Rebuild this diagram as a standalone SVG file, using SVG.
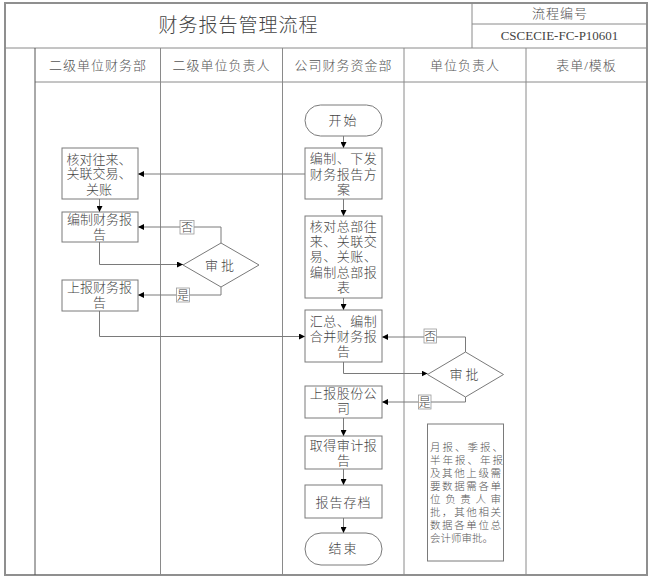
<svg xmlns="http://www.w3.org/2000/svg" width="653" height="580" viewBox="0 0 653 580">
<defs>
<marker id="arr" markerWidth="6" markerHeight="6" refX="6" refY="3" orient="auto" markerUnits="userSpaceOnUse"><path d="M0,0 L6,3 L0,6 z" fill="#000"/></marker>
<style>
.grid{stroke:#8a8a8a;stroke-width:1;fill:none}
.box{fill:#fff;stroke:#7a7a7a;stroke-width:1}
.lbl{fill:#fff;stroke:#9a9a9a;stroke-width:0.8}
.con{stroke:#7a7a7a;stroke-width:1;fill:none;marker-end:url(#arr)}
.t{font-family:"Liberation Serif","Noto Sans CJK SC",serif;font-size:13px;font-weight:300;fill:#444;text-anchor:middle}
.h{font-family:"Liberation Serif","Noto Sans CJK SC",serif;font-size:13px;font-weight:300;fill:#555;text-anchor:middle;letter-spacing:1px}
.n{font-family:"Liberation Serif","Noto Sans CJK SC",serif;font-size:10.5px;font-weight:300;fill:#555}
</style>
</defs>
<rect x="0" y="0" width="653" height="580" fill="#fff"/>
<g id="frame">
<rect x="5" y="3" width="642" height="572" fill="none" stroke="#8f8f8f" stroke-width="2"/>
<line class="grid" x1="5" y1="48" x2="647" y2="48"/>
<line class="grid" x1="472" y1="3" x2="472" y2="48"/>
<line class="grid" x1="472" y1="24" x2="647" y2="24"/>
<line class="grid" x1="35" y1="82" x2="647" y2="82"/>
<line x1="35" y1="48" x2="35" y2="575" stroke="#555" stroke-width="1"/>
<line class="grid" x1="160.5" y1="48" x2="160.5" y2="575"/>
<line class="grid" x1="282.5" y1="48" x2="282.5" y2="575"/>
<line class="grid" x1="404" y1="48" x2="404" y2="575"/>
<line class="grid" x1="526" y1="48" x2="526" y2="575"/>
<text x="238.5" y="32" class="t" style="font-size:19px;letter-spacing:1px">财务报告管理流程</text>
<text x="560" y="18" class="h">流程编号</text>
<text x="559.5" y="40" class="t" style="font-size:13px">CSCECIE-FC-P10601</text>
<text x="98" y="70" class="h">二级单位财务部</text>
<text x="221.5" y="70" class="h">二级单位负责人</text>
<text x="343.5" y="70" class="h">公司财务资金部</text>
<text x="465" y="70" class="h">单位负责人</text>
<text x="586.5" y="70" class="h">表单/模板</text>
</g>
<g id="connectors">
<path class="con" d="M343.5,136 V148"/>
<path class="con" d="M343.5,199 V216"/>
<path class="con" d="M343.5,298 V310"/>
<path class="con" d="M305,174 H138"/>
<path class="con" d="M99.5,199 V212"/>
<path class="con" d="M99.5,242 V264.5 H183"/>
<path class="con" d="M221,243 V227 H138"/>
<path class="con" d="M221,287 V295 H138"/>
<path class="con" d="M99.5,311 V336.5 H305"/>
<path class="con" d="M343.5,362 V373.5 H427.5"/>
<path class="con" d="M465.5,352 V337 H382"/>
<path class="con" d="M465.5,397 V402 H382"/>
<path class="con" d="M343.5,418 V436"/>
<path class="con" d="M343.5,469 V485"/>
<path class="con" d="M343.5,518 V533"/>
<rect class="lbl" x="180" y="220.5" width="14" height="13.5"/>
<text x="187" y="231.5" class="t" style="font-size:12px">否</text>
<rect class="lbl" x="176.5" y="288" width="13" height="14"/>
<text x="183" y="299.5" class="t" style="font-size:12px">是</text>
<rect class="lbl" x="424" y="329" width="12.5" height="14"/>
<text x="430.25" y="340.5" class="t" style="font-size:12px">否</text>
<rect class="lbl" x="418.5" y="395" width="12.5" height="14"/>
<text x="424.75" y="406.5" class="t" style="font-size:12px">是</text>
</g>
<g id="start">
<rect class="box" x="305" y="105" width="77" height="31" rx="15.5" ry="15.5"/>
<text x="343.5" y="124.5" class="t" style="letter-spacing:2px">开始</text>
</g>
<g id="draft">
<rect class="box" x="305" y="148" width="77" height="51"/>
<text x="343.5" y="162.5" class="t" style="letter-spacing:0.5px">编制、下发</text>
<text x="343.5" y="178.5" class="t" style="letter-spacing:0.5px">财务报告方</text>
<text x="343.5" y="193.5" class="t">案</text>
</g>
<g id="check-sub">
<rect class="box" x="62" y="148" width="76" height="51"/>
<text x="99" y="163.5" class="t">核对往来、</text>
<text x="99" y="177.5" class="t">关联交易、</text>
<text x="99" y="193.5" class="t">关账</text>
</g>
<g id="compile-sub">
<rect class="box" x="62" y="212" width="76" height="30"/>
<text x="99.5" y="223.5" class="t">编制财务报</text>
<text x="99.5" y="239" class="t">告</text>
</g>
<g id="approve-sub">
<polygon class="box" points="221,243 259,265 221,287 183,265"/>
<text x="221" y="269.5" class="t" style="letter-spacing:3px">审批</text>
</g>
<g id="report-sub">
<rect class="box" x="62" y="280" width="76" height="31"/>
<text x="99.5" y="292" class="t">上报财务报</text>
<text x="99.5" y="307" class="t">告</text>
</g>
<g id="check-hq">
<rect class="box" x="305" y="216" width="77" height="82"/>
<text x="343.5" y="230.5" class="t" style="letter-spacing:0.5px">核对总部往</text>
<text x="343.5" y="246" class="t" style="letter-spacing:0.5px">来、关联交</text>
<text x="343.5" y="261" class="t" style="letter-spacing:0.5px">易、关账、</text>
<text x="343.5" y="276.5" class="t" style="letter-spacing:0.5px">编制总部报</text>
<text x="343.5" y="291.5" class="t">表</text>
</g>
<g id="consolidate">
<rect class="box" x="305" y="310" width="77" height="52"/>
<text x="343.5" y="326" class="t" style="letter-spacing:0.5px">汇总、编制</text>
<text x="343.5" y="340.5" class="t" style="letter-spacing:0.5px">合并财务报</text>
<text x="343.5" y="356" class="t">告</text>
</g>
<g id="approve-unit">
<polygon class="box" points="465.5,352 503.5,374.5 465.5,397 427.5,374.5"/>
<text x="465.5" y="379" class="t" style="letter-spacing:3px">审批</text>
</g>
<g id="report-corp">
<rect class="box" x="305" y="386" width="77" height="32"/>
<text x="343.5" y="397.5" class="t" style="letter-spacing:0.5px">上报股份公</text>
<text x="343.5" y="412.5" class="t">司</text>
</g>
<g id="audit">
<rect class="box" x="305" y="436" width="77" height="33"/>
<text x="343.5" y="450" class="t" style="letter-spacing:0.5px">取得审计报</text>
<text x="343.5" y="465" class="t">告</text>
</g>
<g id="archive">
<rect class="box" x="305" y="485" width="77" height="33"/>
<text x="343.5" y="506.5" class="t" style="letter-spacing:1px">报告存档</text>
</g>
<g id="end">
<rect class="box" x="305" y="533" width="77" height="32" rx="16" ry="16"/>
<text x="343.5" y="553" class="t" style="letter-spacing:2px">结束</text>
</g>
<g id="note">
<rect class="box" x="427.5" y="424" width="76" height="137"/>
<text x="430" y="450.5" class="n" textLength="73" lengthAdjust="spacing">月报、季报、</text>
<text x="430" y="463.5" class="n" textLength="73" lengthAdjust="spacing">半年报、年报</text>
<text x="430" y="476.5" class="n" textLength="71" lengthAdjust="spacing">及其他上级需</text>
<text x="430" y="489.5" class="n" textLength="71" lengthAdjust="spacing">要数据需各单</text>
<text x="430" y="502.5" class="n" textLength="71" lengthAdjust="spacing">位负责人审</text>
<text x="430" y="515.5" class="n" textLength="71" lengthAdjust="spacing">批，其他相关</text>
<text x="430" y="528.5" class="n" textLength="71" lengthAdjust="spacing">数据各单位总</text>
<text x="430" y="541.5" class="n">会计师审批。</text>
</g>
</svg>
